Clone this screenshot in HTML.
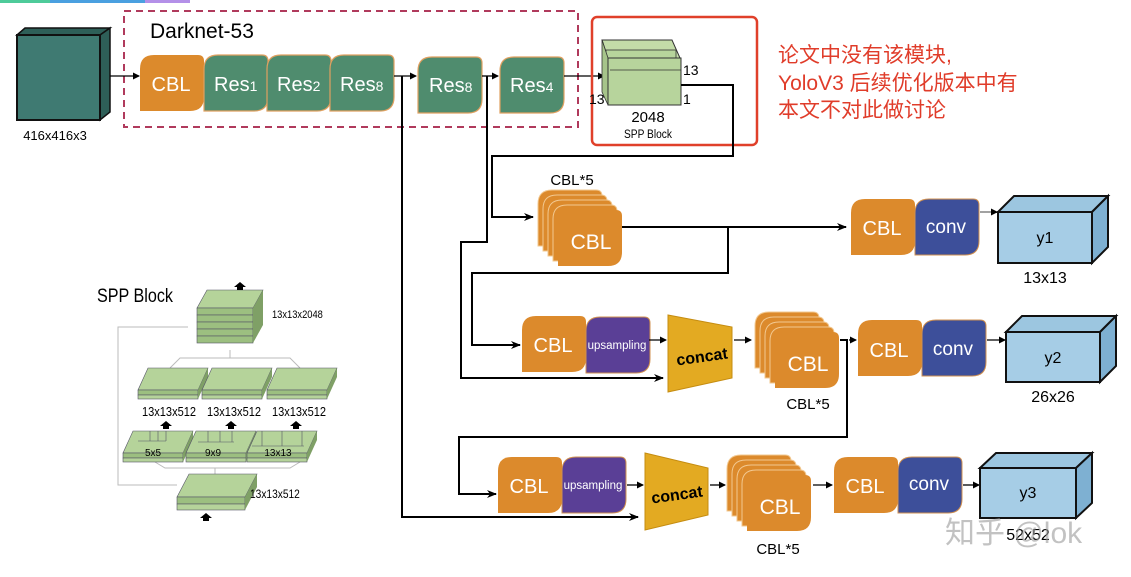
<!DOCTYPE html>
<html><head><meta charset="utf-8"><style>
html,body{margin:0;padding:0;background:#fff;}
svg{display:block;font-family:"Liberation Sans","Noto Sans CJK SC",sans-serif;}
</style></head><body>
<svg width="1131" height="577" viewBox="0 0 1131 577" xmlns="http://www.w3.org/2000/svg">
<defs>
<marker id="ah" markerWidth="10" markerHeight="10" refX="9" refY="5" orient="auto" markerUnits="userSpaceOnUse"><path d="M0,1 L10,5 L0,9 L3,5 Z" fill="#000"/></marker>
<marker id="as" markerWidth="7" markerHeight="7" refX="6" refY="3.5" orient="auto" markerUnits="userSpaceOnUse"><path d="M0,0 L7,3.5 L0,7 Z" fill="#000"/></marker>
<path id="bx" d="M0,56 L0,14 Q0,0 14,0 L58,0 Q64,0 64,6 L64,42 Q64,56 50,56 Z"/>
<g id="stk">
<use href="#bx" x="0" y="0" fill="#dc8a2c" stroke="#f2c890" stroke-width="1"/>
<use href="#bx" x="5" y="5" fill="#dc8a2c" stroke="#f2c890" stroke-width="1"/>
<use href="#bx" x="10" y="10" fill="#dc8a2c" stroke="#f2c890" stroke-width="1"/>
<use href="#bx" x="15" y="15" fill="#dc8a2c" stroke="#f2c890" stroke-width="1"/>
<use href="#bx" x="20" y="20" fill="#dc8a2c"/>
<text x="53" y="59" fill="#fff" font-size="21" text-anchor="middle">CBL</text>
</g>
<g id="plate">
<path d="M10,0 L70,0 L60,22 L0,22 Z" fill="#b5d39a" stroke="#556" stroke-width="0.6"/>
<rect x="0" y="22" width="60" height="5" fill="#9cbf80" stroke="#556" stroke-width="0.6"/>
<rect x="0" y="27" width="60" height="4" fill="#b5d39a" stroke="#556" stroke-width="0.6"/>
<path d="M60,22 L70,0 L70,9 L60,31 Z" fill="#7fa066"/>
</g>
</defs>

<rect x="0" y="0" width="50" height="3" fill="#4ecb9a"/>
<rect x="50" y="0" width="95" height="3" fill="#4aa0e0"/>
<rect x="145" y="0" width="45" height="3" fill="#b490e8"/>

<path d="M17,35 L25,28 L110,28 L100,35 Z" fill="#2e5f58" stroke="#111" stroke-width="1.5"/>
<path d="M100,35 L110,28 L110,112 L100,120 Z" fill="#2e5f58" stroke="#111" stroke-width="1.5"/>
<rect x="17" y="35" width="83" height="85" fill="#3f7a72" stroke="#111" stroke-width="2"/>
<text x="55" y="140" font-size="13" text-anchor="middle">416x416x3</text>

<rect x="124" y="11" width="454" height="116" fill="none" stroke="#b03a5c" stroke-width="2" stroke-dasharray="7,5"/>
<text x="150" y="38" font-size="21">Darknet-53</text>

<line x1="110" y1="76" x2="139" y2="76" stroke="#000" stroke-width="1.3" marker-end="url(#as)"/>
<g stroke="#e0a060" stroke-width="1.2">
<use href="#bx" x="140" y="55" fill="#dc8a2c" stroke="none"/>
<use href="#bx" x="204" y="55" fill="#4f8c6e"/>
<use href="#bx" x="267" y="55" fill="#4f8c6e"/>
<use href="#bx" x="330" y="55" fill="#4f8c6e"/>
<use href="#bx" x="418" y="57" fill="#4f8c6e"/>
<use href="#bx" x="500" y="57" fill="#4f8c6e"/>
</g>
<g fill="#fff" font-size="20">
<text x="171" y="91" text-anchor="middle">CBL</text>
<text x="214" y="91">Res<tspan font-size="14">1</tspan></text>
<text x="277" y="91">Res<tspan font-size="14">2</tspan></text>
<text x="340" y="91">Res<tspan font-size="14">8</tspan></text>
<text x="429" y="92">Res<tspan font-size="14">8</tspan></text>
<text x="510" y="92">Res<tspan font-size="14">4</tspan></text>
</g>
<line x1="394" y1="76" x2="416" y2="76" stroke="#000" stroke-width="1.3" marker-end="url(#as)"/>
<line x1="482" y1="76" x2="498" y2="76" stroke="#000" stroke-width="1.3" marker-end="url(#as)"/>
<line x1="564" y1="76" x2="604" y2="76" stroke="#000" stroke-width="1.3" marker-end="url(#as)"/>

<rect x="592" y="17" width="165" height="128" rx="5" fill="none" stroke="#e0402a" stroke-width="2.5"/>
<path d="M602,40 L672,40 L680,58 L608,58 Z" fill="#c3dca8" stroke="#333" stroke-width="1"/>
<rect x="606" y="50" width="70" height="8" fill="#b7d49c" stroke="#333" stroke-width="0.8"/>
<path d="M602,40 L608,58 L608,105 L602,92 Z" fill="#a6c48a" stroke="#333" stroke-width="0.8"/>
<rect x="608" y="58" width="73" height="47" fill="#b7d49c" stroke="#333" stroke-width="1"/>
<line x1="610" y1="70" x2="681" y2="70" stroke="#333" stroke-width="0.8"/>
<g font-size="14"><text x="683" y="75">13</text><text x="589" y="104">13</text><text x="683" y="104">1</text>
<text x="648" y="122" text-anchor="middle" font-size="15">2048</text></g>
<text x="648" y="138" text-anchor="middle" font-size="12" transform="translate(648,138) scale(0.85,1) translate(-648,-138)">SPP Block</text>
<g fill="#e03c2a" font-size="21">
<text x="778" y="62">论文中没有该模块,</text>
<text x="778" y="90">YoloV3 后续优化版本中有</text>
<text x="778" y="117">本文不对此做讨论</text>
</g>

<g stroke="#000" stroke-width="2" fill="none">
<polyline points="681,85 733,85 733,156 492,156 492,217 533,217" marker-end="url(#ah)"/>
<polyline points="487,76 487,242 461,242 461,378 663,378" marker-end="url(#ah)"/>
<polyline points="402,76 402,517 638,517" marker-end="url(#ah)"/>
<polyline points="622,227 846,227" marker-end="url(#ah)"/>
<polyline points="728,227 728,273 472,273 472,345 520,345" marker-end="url(#ah)"/>
<polyline points="840,340 847,340 847,437 459,437 459,494 496,494" marker-end="url(#ah)"/>
</g>

<use href="#stk" x="538" y="190"/>
<text x="572" y="185" font-size="15" text-anchor="middle">CBL*5</text>
<use href="#bx" x="851" y="199" fill="#dc8a2c"/>
<use href="#bx" x="915" y="199" fill="#3d4f9a" stroke="#d09050"/>
<text x="882" y="235" fill="#fff" font-size="20" text-anchor="middle">CBL</text>
<text x="946" y="233" fill="#fff" font-size="19" text-anchor="middle">conv</text>
<line x1="980" y1="212" x2="997" y2="212" stroke="#444" stroke-width="1" marker-end="url(#as)"/>

<use href="#bx" x="522" y="316" fill="#dc8a2c"/>
<use href="#bx" x="586" y="317" fill="#5a3f96" stroke="#d09050"/>
<text x="553" y="352" fill="#fff" font-size="20" text-anchor="middle">CBL</text>
<text x="617" y="349" fill="#fff" font-size="11.5" text-anchor="middle">upsampling</text>
<line x1="649" y1="340" x2="666" y2="340" stroke="#000" stroke-width="1.3" marker-end="url(#as)"/>
<path d="M668,315 L732,327 L732,378 L668,392 Z" fill="#e3aa22" stroke="#c58c10"/>
<text x="702" y="362" font-size="16" font-weight="bold" text-anchor="middle" transform="rotate(-8 702 357)">concat</text>
<line x1="734" y1="340" x2="751" y2="340" stroke="#000" stroke-width="1.3" marker-end="url(#as)"/>
<use href="#stk" x="755" y="312"/>
<text x="808" y="409" font-size="15" text-anchor="middle">CBL*5</text>
<use href="#bx" x="858" y="320" fill="#dc8a2c"/>
<use href="#bx" x="922" y="320" fill="#3d4f9a" stroke="#d09050"/>
<text x="889" y="357" fill="#fff" font-size="20" text-anchor="middle">CBL</text>
<text x="953" y="355" fill="#fff" font-size="19" text-anchor="middle">conv</text>
<line x1="849" y1="340" x2="856" y2="340" stroke="#000" stroke-width="1.3" marker-end="url(#as)"/>
<line x1="987" y1="340" x2="1005" y2="340" stroke="#000" stroke-width="1.3" marker-end="url(#as)"/>

<use href="#bx" x="498" y="457" fill="#dc8a2c"/>
<use href="#bx" x="562" y="457" fill="#5a3f96" stroke="#d09050"/>
<text x="529" y="493" fill="#fff" font-size="20" text-anchor="middle">CBL</text>
<text x="593" y="489" fill="#fff" font-size="11.5" text-anchor="middle">upsampling</text>
<line x1="627" y1="485" x2="643" y2="485" stroke="#000" stroke-width="1.3" marker-end="url(#as)"/>
<path d="M645,453 L708,468 L708,515 L645,530 Z" fill="#e3aa22" stroke="#c58c10"/>
<text x="677" y="500" font-size="16" font-weight="bold" text-anchor="middle" transform="rotate(-8 677 495)">concat</text>
<line x1="710" y1="485" x2="725" y2="485" stroke="#000" stroke-width="1.3" marker-end="url(#as)"/>
<use href="#stk" x="727" y="455"/>
<text x="778" y="554" font-size="15" text-anchor="middle">CBL*5</text>
<line x1="813" y1="485" x2="832" y2="485" stroke="#000" stroke-width="1.3" marker-end="url(#as)"/>
<use href="#bx" x="834" y="457" fill="#dc8a2c"/>
<use href="#bx" x="898" y="457" fill="#3d4f9a" stroke="#d09050"/>
<text x="865" y="493" fill="#fff" font-size="20" text-anchor="middle">CBL</text>
<text x="929" y="490" fill="#fff" font-size="19" text-anchor="middle">conv</text>
<line x1="963" y1="485" x2="979" y2="485" stroke="#000" stroke-width="1.3" marker-end="url(#as)"/>

<g stroke="#111" stroke-width="2">
<path d="M998,212 L1014,196 L1108,196 L1092,212 Z" fill="#9cc6e0"/>
<path d="M1092,212 L1108,196 L1108,247 L1092,263 Z" fill="#7eb0d2"/>
<rect x="998" y="212" width="94" height="51" fill="#a6cde6"/>
<path d="M1006,332 L1022,316 L1116,316 L1100,332 Z" fill="#9cc6e0"/>
<path d="M1100,332 L1116,316 L1116,366 L1100,382 Z" fill="#7eb0d2"/>
<rect x="1006" y="332" width="94" height="50" fill="#a6cde6"/>
<path d="M980,468 L996,453 L1092,453 L1076,468 Z" fill="#9cc6e0"/>
<path d="M1076,468 L1092,453 L1092,503 L1076,518 Z" fill="#7eb0d2"/>
<rect x="980" y="468" width="96" height="50" fill="#a6cde6"/>
</g>
<g font-size="16" text-anchor="middle">
<text x="1045" y="243">y1</text><text x="1045" y="283">13x13</text>
<text x="1053" y="363">y2</text><text x="1053" y="402">26x26</text>
<text x="1028" y="498">y3</text><text x="1028" y="540">52x52</text>
</g>
<text x="945" y="543" font-size="30" fill="#999" fill-opacity="0.6">知乎 @lok</text>

<!-- SPP mini diagram -->
<text x="97" y="302" font-size="19" transform="translate(97,302) scale(0.85,1) translate(-97,-302)">SPP Block</text>
<g stroke="#bbb" stroke-width="1" fill="none">
<polyline points="177,485 118,485 118,327 188,327"/>
<polyline points="170,368 180,358 290,358 300,368"/>
<line x1="230" y1="358" x2="230" y2="350"/>
<polyline points="155,462 165,468 290,468 300,462"/>
<line x1="215" y1="468" x2="215" y2="474"/>
</g>
<path d="M197,308 L207,290 L263,290 L253,308 Z" fill="#b5d39a" stroke="#556" stroke-width="0.6"/>
<g fill="#9cbf80" stroke="#556" stroke-width="0.6">
<rect x="197" y="308" width="56" height="7"/><rect x="197" y="315" width="56" height="7"/><rect x="197" y="322" width="56" height="7"/><rect x="197" y="329" width="56" height="7"/><rect x="197" y="336" width="56" height="7"/>
</g>
<path d="M253,308 L263,290 L263,325 L253,343 Z" fill="#7fa066"/>
<path d="M240,282 l-6,5 h3 v3 h6 v-3 h3 Z" fill="#000"/>
<text x="272" y="318" font-size="11" transform="translate(272,318) scale(0.85,1) translate(-272,-318)">13x13x2048</text>
<use href="#plate" x="138" y="368"/>
<use href="#plate" x="202" y="368"/>
<use href="#plate" x="267" y="368"/>
<g font-size="13" text-anchor="middle">
<text x="169" y="416" transform="translate(169,416) scale(0.85,1) translate(-169,-416)">13x13x512</text>
<text x="234" y="416" transform="translate(234,416) scale(0.85,1) translate(-234,-416)">13x13x512</text>
<text x="299" y="416" transform="translate(299,416) scale(0.85,1) translate(-299,-416)">13x13x512</text>
</g>
<path d="M166,421 l-6,5 h3 v3 h6 v-3 h3 Z M231,421 l-6,5 h3 v3 h6 v-3 h3 Z M296,421 l-6,5 h3 v3 h6 v-3 h3 Z" fill="#000"/>
<use href="#plate" x="123" y="431"/>
<use href="#plate" x="186" y="431"/>
<use href="#plate" x="247" y="431"/>
<g stroke="#556" stroke-width="0.6" fill="none">
<path d="M138,441 h28 M150,431 v10 M158,431 v10 M166,431 v10"/>
<path d="M198,442 h36 M208,431 v11 M220,431 v11 M232,431 v11"/>
<path d="M252,446 h52 M262,431 v15 M282,431 v15 M302,431 v15"/>
</g>
<g font-size="10" text-anchor="middle"><text x="153" y="456">5x5</text><text x="213" y="456">9x9</text><text x="278" y="456">13x13</text></g>
<path d="M177,497 L189,474 L257,474 L245,497 Z" fill="#b5d39a" stroke="#556" stroke-width="0.6"/>
<rect x="177" y="497" width="68" height="7" fill="#9cbf80" stroke="#556" stroke-width="0.6"/>
<rect x="177" y="504" width="68" height="6" fill="#b5d39a" stroke="#556" stroke-width="0.6"/>
<path d="M245,497 L257,474 L257,487 L245,510 Z" fill="#7fa066"/>
<text x="250" y="498" font-size="12" transform="translate(250,498) scale(0.85,1) translate(-250,-498)">13x13x512</text>
<path d="M206,513 l-6,5 h3 v3 h6 v-3 h3 Z" fill="#000"/>
</svg>
</body></html>
